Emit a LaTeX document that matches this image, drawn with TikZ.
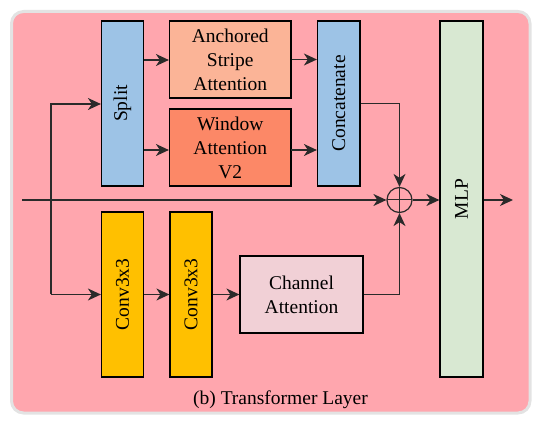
\documentclass[tikz,border=0pt]{standalone}
\usepackage{fontspec}
\setmainfont{Liberation Serif}
\usetikzlibrary{arrows.meta,calc}
\definecolor{bgpink}{HTML}{FFA6AE}
\definecolor{bggrey}{HTML}{E3E3E3}
\definecolor{splitblue}{HTML}{9DC3E6}
\definecolor{asacol}{HTML}{FBB497}
\definecolor{wavcol}{HTML}{FC8867}
\definecolor{convcol}{HTML}{FFC000}
\definecolor{cacol}{HTML}{F1D0D6}
\definecolor{mlpcol}{HTML}{D8E8D2}
\definecolor{linecol}{HTML}{2A2A2A}
\tikzset{
  blk/.style={draw=black, line width=1.2pt, rectangle, inner sep=0pt, align=center,
    font=\fontsize{19.5}{24}\selectfont},
  arr/.style={draw=linecol, line width=1.3pt, -{Stealth[length=13pt,width=12pt,inset=4pt]}},
}
\begin{document}
\begin{tikzpicture}[x=1pt,y=-1pt]
\useasboundingbox (0,0) rectangle (536,422);
\draw[draw=bggrey, line width=3pt, fill=bgpink, rounded corners=12pt] (11.5,11.5) rectangle (530,413);

\node[blk, fill=splitblue, minimum height=165pt, minimum width=42pt] (split) at (122.5,103.5) {\rotatebox{90}{Split}};
\node[blk, fill=asacol, minimum width=121.5pt, minimum height=77pt] (asa) at (230.25,59.5) {Anchored\\Stripe\\Attention};
\node[blk, fill=wavcol, minimum width=121.5pt, minimum height=77pt] (wav) at (230.25,147.5) {Window\\Attention\\V2};
\node[blk, fill=splitblue, minimum height=165pt, minimum width=42.5pt] (concat) at (338.75,103.5) {\rotatebox{90}{Concatenate}};
\node[blk, fill=mlpcol, minimum height=356pt, minimum width=43pt] (mlp) at (461.5,199) {\rotatebox{90}{MLP}};
\node[blk, fill=convcol, minimum height=165pt, minimum width=42pt] (conv1) at (122.5,294.5) {\rotatebox{90}{Conv3x3}};
\node[blk, fill=convcol, minimum height=165pt, minimum width=42pt] (conv2) at (191,294.5) {\rotatebox{90}{Conv3x3}};
\node[blk, fill=cacol, minimum width=123pt, minimum height=77pt] (ca) at (301.5,294.5) {Channel\\Attention};
\node[circle, draw=linecol, line width=1.2pt, minimum size=25pt, inner sep=0pt,
  path picture={\draw[linecol, line width=1pt] (path picture bounding box.north) -- (path picture bounding box.south)
    (path picture bounding box.west) -- (path picture bounding box.east);}] (oplus) at (399.5,200) {};

\coordinate (in) at (22,200);
\coordinate (out) at (513,200);
\coordinate (bt) at (51,104);
\coordinate (bb) at (51,294.5);
\coordinate (s1) at (143.5,60);
\coordinate (s2) at (143.5,150);
\coordinate (w2) at (291,150);

\draw[arr] (in) -- (oplus.west);
\draw[arr] (oplus.east) -- (oplus.east -| mlp.west);
\draw[arr] (mlp.east |- oplus) -- (out);
\draw[arr] (bb) -- (bt) -- (split.west |- bt);
\draw[arr] (bb) -- (conv1.west |- bb);
\draw[arr] (s1) -- (asa.west |- s1);
\draw[arr] (s2) -- (wav.west |- s2);
\draw[arr] (asa.east) -- (asa.east -| concat.west);
\draw[arr] (w2) -- (concat.west |- w2);
\draw[arr] (concat.east) -| (oplus.north);
\draw[arr] (ca.east) -| (oplus.south);
\draw[arr] (conv1.east |- bb) -- (conv2.west |- bb);
\draw[arr] (conv2.east |- bb) -- (ca.west);

\node[font=\fontsize{19.5}{24}\selectfont, inner sep=0pt] (cap) at (280.5,400) {(b) Transformer Layer};
\end{tikzpicture}
\end{document}
